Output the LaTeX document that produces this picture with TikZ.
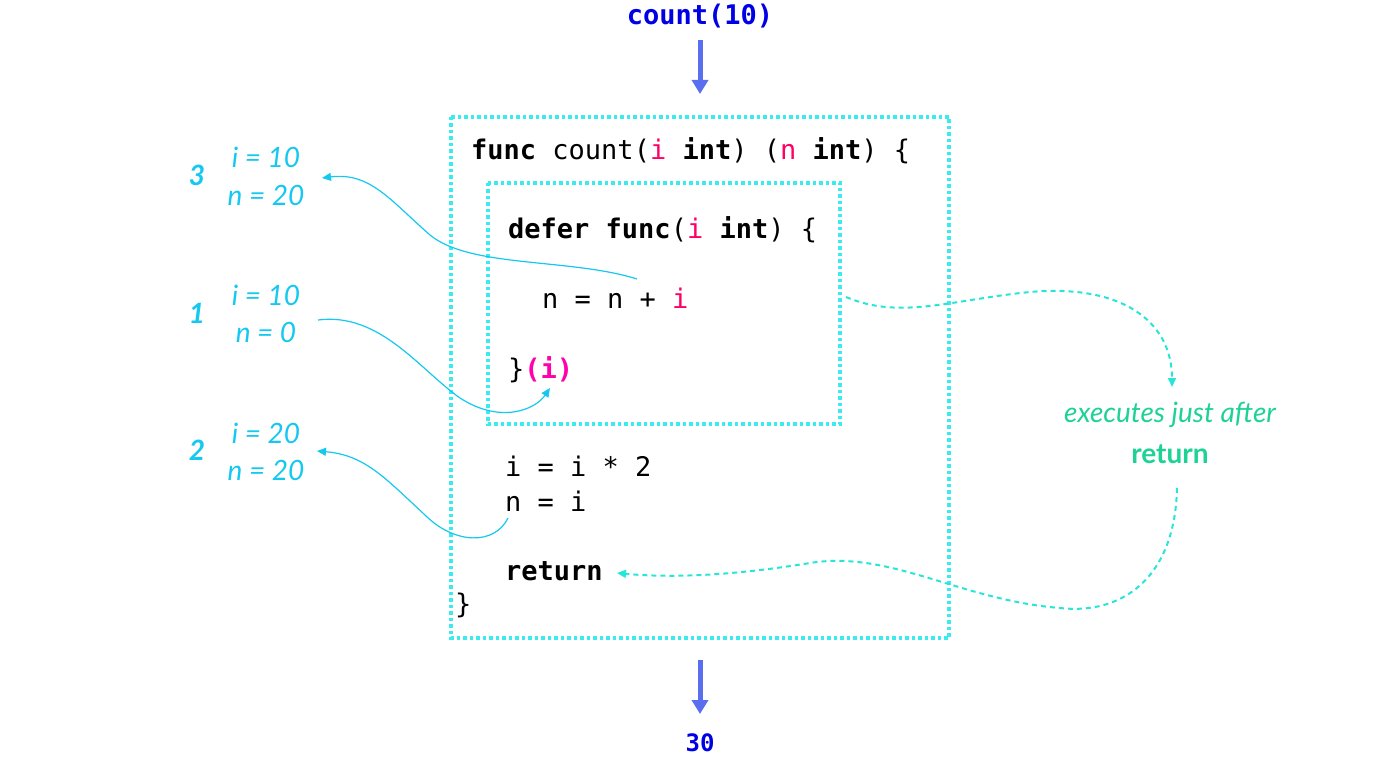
\documentclass[tikz,border=0pt]{standalone}
\usepackage{fontspec}
\setmonofont{DejaVu Sans Mono}
\setsansfont{Lato}
\usetikzlibrary{arrows.meta}
\definecolor{ann}{RGB}{20,200,240}
\definecolor{boxc}{RGB}{60,235,240}
\definecolor{dash}{RGB}{40,230,215}
\definecolor{grn}{RGB}{30,210,150}
\definecolor{pk}{RGB}{255,0,100}
\definecolor{mg}{RGB}{255,0,170}
\definecolor{blu}{RGB}{0,0,230}
\definecolor{arr}{RGB}{90,110,240}
\tikzset{
 code/.style={anchor=west,inner sep=0pt,font=\ttfamily\fontsize{27}{27}\selectfont},
 annot/.style={inner sep=0pt,text=ann,font=\sffamily\itshape\fontsize{28}{28}\selectfont},
 num/.style={inner sep=0pt,text=ann,font=\sffamily\bfseries\itshape\fontsize{28}{28}\selectfont},
 dbox/.style={draw=boxc,line width=3.5pt,dash pattern=on 3.5pt off 3pt},
 bigarr/.style={draw=arr,line width=5pt,-{Triangle[width=16pt,length=14pt]}},
 thin/.style={draw=ann,line width=1.2pt,-{Triangle[width=8pt,length=9pt]}},
 dcur/.style={draw=dash,line width=2pt,dash pattern=on 5pt off 4pt,-{Triangle[width=8pt,length=9pt]}}
}
\begin{document}
\begin{tikzpicture}[x=1pt,y=-1pt]
\useasboundingbox (0,0) rectangle (1400,759);
\node[inner sep=0pt,text=blu,font=\ttfamily\bfseries\fontsize{27}{27}\selectfont] (top) at (700,16) {count(10)};
\coordinate (a1) at (700,40); \coordinate (a2) at (700,94);
\draw[bigarr] (a1) -- (a2);
\draw[dbox] (451,117) rectangle (949,638);
\draw[dbox] (488,183) rectangle (840,424);
\node[code] (l1) at (471,151) {\textbf{func} count(\textcolor{pk}{i} \textbf{int}) (\textcolor{pk}{n} \textbf{int}) \{};
\node[code] (l2) at (508,230) {\textbf{defer func}(\textcolor{pk}{i} \textbf{int}) \{};
\node[code] (l3) at (542,298) {n = n + \textcolor{pk}{i}};
\node[code] (l4) at (508,370) {\}\textcolor{mg}{\textbf{(i)}}};
\node[code] (l5) at (505,466) {i = i * 2};
\node[code] (l6) at (505,501) {n = i};
\node[code] (l7) at (505,571) {\textbf{return}};
\node[code] (l8) at (455,605) {\}};
\coordinate (b1) at (700,660); \coordinate (b2) at (700,714);
\draw[bigarr] (b1) -- (b2);
\node[inner sep=0pt,text=blu,font=\ttfamily\bfseries\fontsize{24}{24}\selectfont] (res) at (700,743) {30};
% annotations
\node[num] (n3) at (197,175) {3};
\node[annot] (s3a) at (266,157) {i = 10};
\node[annot] (s3b) at (266,195) {n = 20};
\node[num] (n1) at (197,313) {1};
\node[annot] (s1a) at (266,295) {i = 10};
\node[annot] (s1b) at (266,332) {n = 0};
\node[num] (n2) at (197,450) {2};
\node[annot] (s2a) at (266,433) {i = 20};
\node[annot] (s2b) at (266,470) {n = 20};
\coordinate (c3s) at (637,279); \coordinate (c3e) at (322,178);
\draw[thin] (c3s) .. controls (570,258) and (470,268) .. (430,235) .. controls (390,200) and (370,172) .. (c3e);
\coordinate (c1s) at (318,320); \coordinate (c1e) at (550,388);
\draw[thin] (c1s) .. controls (380,312) and (420,370) .. (460,398) .. controls (500,424) and (535,410) .. (c1e);
\coordinate (c2s) at (508,518); \coordinate (c2e) at (317,451);
\draw[thin] (c2s) .. controls (495,545) and (455,545) .. (425,515) .. controls (385,478) and (365,455) .. (c2e);
% right side
\node[inner sep=0pt,text=grn,font=\sffamily\itshape\fontsize{28}{28}\selectfont] (ex1) at (1170,415) {executes just after};
\node[inner sep=0pt,text=grn,font=\sffamily\bfseries\fontsize{28}{28}\selectfont] (ex2) at (1170,454) {return};
\coordinate (d1s) at (846,297); \coordinate (d1e) at (1172,387);
\draw[dcur] (d1s) .. controls (900,320) and (950,300) .. (1030,292) .. controls (1120,284) and (1172,320) .. (d1e);
\coordinate (d2s) at (1177,488); \coordinate (d2e) at (617,573);
\draw[dcur] (d2s) .. controls (1175,580) and (1120,615) .. (1060,608) .. controls (960,600) and (890,550) .. (810,563) .. controls (730,576) and (670,578) .. (d2e);
\end{tikzpicture}
\end{document}
